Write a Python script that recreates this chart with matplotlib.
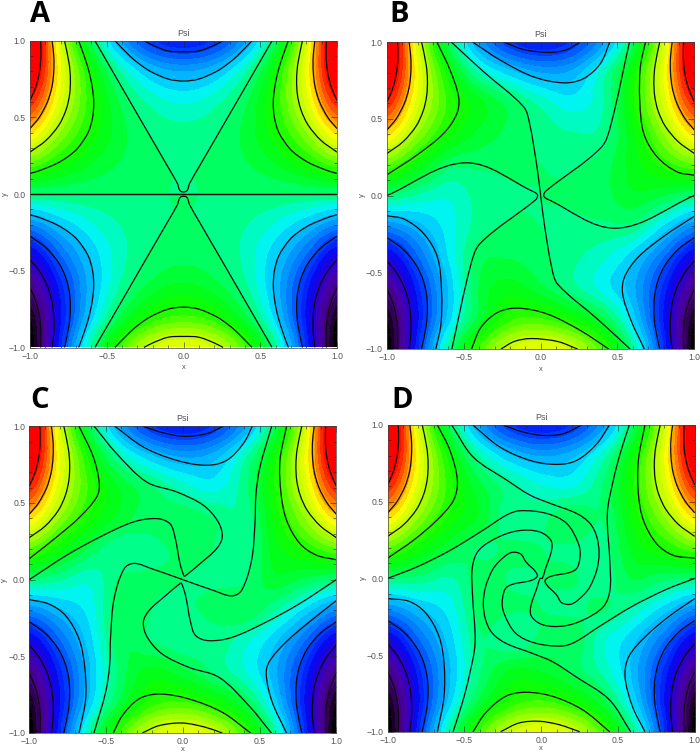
import numpy as np
import matplotlib
matplotlib.use("Agg")
import matplotlib.pyplot as plt
from matplotlib.colors import LinearSegmentedColormap, BoundaryNorm
from matplotlib.path import Path
from matplotlib.patches import PathPatch

# Psi read at nodes x=-1..1, y=1..-1 (step 0.2)
TOP = [2, .92, .08, -.52, -.88, -1, -.88, -.52, .08, .92, 2]
BOT = [-2, -.92, -.08, .52, .88, 1, .88, .52, -.08, -.92, -2]
psi_a = [TOP,
 [1.89, 1.02, .35, -.13, -.42, -.51, -.42, -.13, .35, 1.02, 1.89],
 [1.58, .94, .43, .07, -.14, -.22, -.14, .07, .43, .94, 1.58],
 [1.14, .70, .37, .13, -.02, -.06, -.02, .13, .37, .70, 1.14],
 [.59, .38, .21, .09, .02, -.01, .02, .09, .21, .38, .59],
 [0, 0, 0, 0, 0, 0, 0, 0, 0, 0, 0],
 [-.59, -.38, -.21, -.09, -.02, .01, -.02, -.09, -.21, -.38, -.59],
 [-1.14, -.70, -.37, -.13, .02, .06, .02, -.13, -.37, -.70, -1.14],
 [-1.58, -.94, -.43, -.07, .14, .22, .14, -.07, -.43, -.94, -1.58],
 [-1.89, -1.02, -.35, .13, .42, .51, .42, .13, -.35, -1.02, -1.89],
 BOT]
psi_b = [TOP,
 [1.89, 1.02, .35, -.11, -.35, -.50, -.47, -.15, .35, 1.02, 1.89],
 [1.58, .94, .475, .24, .05, -.13, -.25, -.11, .385, .94, 1.58],
 [1.14, .70, .36, .17, .07, -.03, -.09, -.06, .29, .71, 1.14],
 [.59, .31, .04, .02, .02, 0, -.01, .05, .25, .44, .59],
 [0, -.11, -.18, -.06, -.01, 0, .01, .06, .18, .11, 0],
 [-.59, -.44, -.25, -.05, .01, 0, -.02, -.02, -.04, -.31, -.59],
 [-1.14, -.71, -.29, .06, .09, .03, -.07, -.17, -.36, -.70, -1.14],
 [-1.58, -.94, -.385, .11, .25, .13, -.05, -.24, -.475, -.94, -1.58],
 [-1.89, -1.02, -.35, .15, .47, .50, .35, .11, -.35, -1.02, -1.89],
 BOT]
psi_c = [TOP,
 [1.89, 1.02, .35, -.115, -.375, -.51, -.45, -.14, .35, 1.02, 1.89],
 [1.58, .94, .465, .18, .01, -.14, -.24, -.045, .40, .94, 1.58],
 [1.14, .70, .37, .16, .03, .06, 0, -.08, .33, .71, 1.14],
 [.59, .33, .08, -.09, -.02, .01, 0, -.085, .25, .42, .59],
 [0, -.08, -.17, .02, .01, 0, -.01, -.02, .17, .08, 0],
 [-.59, -.42, -.25, .085, 0, -.01, .02, .09, -.08, -.33, -.59],
 [-1.14, -.71, -.33, .08, 0, -.06, -.03, -.16, -.37, -.70, -1.14],
 [-1.58, -.94, -.40, .045, .24, .14, -.01, -.18, -.465, -.94, -1.58],
 [-1.89, -1.02, -.35, .14, .45, .51, .375, .115, -.35, -1.02, -1.89],
 BOT]
psi_d = [TOP,
 [1.89, 1.02, .35, -.12, -.39, -.51, -.43, -.14, .35, 1.02, 1.89],
 [1.58, .94, .45, .13, -.06, -.19, -.21, .01, .415, .94, 1.58],
 [1.14, .70, .375, .18, -.08, -.03, .09, .01, .35, .71, 1.14],
 [.59, .35, .14, -.01, .02, 0, -.01, -.04, .25, .41, .59],
 [0, -.03, -.11, .055, -.01, 0, .01, -.055, .11, .03, 0],
 [-.59, -.41, -.25, .04, .01, 0, -.02, .01, -.14, -.35, -.59],
 [-1.14, -.71, -.35, -.01, -.09, .03, .08, -.18, -.375, -.70, -1.14],
 [-1.58, -.94, -.415, -.01, .21, .19, .06, -.13, -.45, -.94, -1.58],
 [-1.89, -1.02, -.35, .14, .43, .51, .39, .12, -.35, -1.02, -1.89],
 BOT]

# Contours at the right-hand top corner, (x, y), shared by all panels
corner_08 = [(1, .274), (.896, .35), (.812, .45), (.765, .55), (.742, .65), (.737, .75), (.745, .85), (.775, 1)]
corner_12 = [(1, .427), (.94, .5), (.887, .6), (.857, .7), (.845, .8), (.845, .9), (.856, 1)]
corner_16 = [(1, .61), (.962, .7), (.938, .8), (.929, .9), (.931, 1)]

# Contours specific to each panel; each is also drawn through the panel's centre
lines_a = [
 [(1, .135), (.947, .15), (.825, .2), (.745, .25), (.689, .3), (.622, .4), (.592, .5), (.585, .6), (.595, .7), (.616, .8), (.647, .9), (.683, 1)],
 [(-1, .135), (-.947, .15), (-.825, .2), (-.745, .25), (-.689, .3), (-.622, .4), (-.592, .5), (-.585, .6), (-.595, .7), (-.616, .8), (-.647, .9), (-.683, 1)],
 [(-.447, 1), (-.349, .9), (-.29, .85), (-.216, .8), (-.1, .75), (0, .737), (.1, .75), (.216, .8), (.29, .85), (.349, .9), (.447, 1)],
 [(-.258, 1), (-.2, .97), (-.1, .933), (0, .928), (.1, .933), (.2, .97), (.258, 1)],
 [(-.577, 1), (-.3, .52), (-.1, .175), (-.04, .07), (-.02, .02), (.02, .02), (.04, .07), (.1, .175), (.3, .52), (.577, 1)],
 [(-1, 0), (1, 0)],
]
lines_b = [
 [(-.675, 1), (-.589, .816), (-.534, .643), (-.545, .534), (-.632, .404), (-.806, .263), (-.997, .137)],
 [(.682, 1), (.649, .838), (.645, .621), (.671, .404), (.758, .252), (.888, .154), (1, .132)],
 [(-.443, 1), (-.263, .882), (-.046, .773), (.15, .734), (.28, .762), (.389, .86), (.45, 1)],
 [(-.24, 1), (-.11, .951), (.063, .932), (.172, .951), (.258, 1)],
 [(-.582, 1), (-.371, .806), (-.111, .578), (-.072, .469), (-.024, .187), (0, 0)],
 [(-1, 0), (-.49, .213), (-.045, .024), (-.02, .002), (-.035, -.03), (-.394, -.313), (-.458, -.465), (-.578, -1)],
]
lines_c = [
 [(-.676, 1), (-.583, .8), (-.544, .626), (-.561, .539), (-.67, .409), (-.822, .278), (-1, .137)],
 [(.676, 1), (.633, .778), (.64, .561), (.676, .387), (.763, .235), (.872, .159), (1, .13)],
 [(-.442, 1), (-.257, .865), (-.04, .778), (.155, .746), (.286, .778), (.394, .887), (.453, 1)],
 [(-.257, 1), (-.149, .963), (.003, .935), (.155, .952), (.264, 1)],
 [(.579, 1), (.503, .735), (.477, .561), (.47, .365), (.448, .126), (.383, -.07), (.318, -.106), (.199, -.07), (.025, -.009), (0, 0)],
 [(-1, 0), (-.757, .159), (-.54, .278), (-.322, .376), (-.17, .398), (-.084, .365), (-.051, .278), (-.018, .104), (.008, .024), (.016, .024),
  (.112, .104), (.22, .202), (.257, .278), (.231, .376), (.134, .485), (-.04, .572), (-.236, .637), (-.431, .822), (-.577, 1)],
]
lines_d = [
 [(-.676, 1), (-.594, .834), (-.546, .638), (-.572, .508), (-.681, .378), (-.833, .248), (-1, .132)],
 [(.676, 1), (.633, .769), (.633, .552), (.666, .378), (.752, .226), (.861, .15), (1, .132)],
 [(-.446, 1), (-.268, .856), (-.073, .769), (.101, .743), (.231, .769), (.362, .877), (.444, 1)],
 [(-.251, 1), (-.116, .954), (.014, .932), (.144, .943), (.264, 1)],
 [(.574, 1), (.514, .812), (.47, .641), (.431, .423), (.448, .098), (.448, -.076), (.405, -.185), (.275, -.271), (.144, -.311), (.014, -.304),
  (-.062, -.25), (-.068, -.185), (-.025, -.054), (-.008, 0), (0, 0)],
 [(-1, 0), (-.811, .074), (-.594, .182), (-.377, .315), (-.225, .413), (-.138, .441), (.036, .423), (.166, .358), (.242, .228), (.253, .141),
  (.22, .054), (.058, .011), (.025, -.022), (.101, -.109), (.134, -.159), (.199, -.167), (.275, -.109), (.318, -.054), (.362, .054), (.377, .163),
  (.362, .271), (.318, .358), (.231, .423), (.058, .489), (-.073, .543), (-.225, .641), (-.442, .79), (-.583, 1)],
]

panel_letters = ["A", "B", "C", "D"]
panel_title = "Psi"
# left, right, top, bottom of each plot in pixels; letter x and baseline
boxes = [(30, 337, 40.7, 347.5), (387, 694.3, 42, 349), (29.3, 336.3, 426.3, 733), (387.7, 694.7, 425, 731.7)]
letter_pos = [(30, 22), (389, 22), (30, 408), (391, 408)]
xlabel_coord = [-0.055, -0.055, -0.042, -0.042]

# Colours along Psi
color_psi = [-2, -1.85, -1.7, -1.5, -1.3, -1.1, -.9, -.6, -.4, -.25, -.1, 0, .2, .4, .6, .8, 1.0, 1.1, 1.25, 1.4, 1.6, 1.75, 2]
color_hex = ["#000000", "#28003c", "#440080", "#4800a8", "#2c00d0", "#0808f0", "#0038ff", "#0090ff", "#00c8ff",
             "#00f8f0", "#00ffa0", "#00ff70", "#00ff20", "#10ff00", "#60ff00", "#b0ff00", "#e8ff00", "#ffff00",
             "#ffb000", "#ff7000", "#ff2000", "#ff0000", "#ff0000"]

W, H = 700, 753
fig = plt.figure(figsize=(W / 100, H / 100), dpi=100, facecolor="white")
plt.rcParams["font.family"] = ["Liberation Sans", "DejaVu Sans"]

cmap = LinearSegmentedColormap.from_list(
    "idl39", [((v + 2) / 4, c) for v, c in zip(color_psi, color_hex)], N=256)
levels = np.linspace(-2, 2, 41)
norm = BoundaryNorm(levels, 256)
GRAY = "#555555"
LINE = dict(edgecolor="#0a0a0a", facecolor="none", lw=0.9, joinstyle="round", capstyle="butt")


def curve(pts):
    """Bezier path through the read points, using the library's curve segments."""
    p = np.array(pts, dtype=float)
    n = len(p)
    if n == 2:
        return Path(p)
    tang = np.zeros_like(p)
    tang[1:-1] = p[2:] - p[:-2]
    tang[0] = p[1] - p[0]
    tang[-1] = p[-1] - p[-2]
    tang /= np.maximum(np.linalg.norm(tang, axis=1, keepdims=True), 1e-9)
    verts, codes = [p[0]], [Path.MOVETO]
    for i in range(n - 1):
        d = np.linalg.norm(p[i + 1] - p[i]) / 3
        verts += [p[i] + tang[i] * d, p[i + 1] - tang[i + 1] * d, p[i + 1]]
        codes += [Path.CURVE4] * 3
    return Path(verts, codes)


fields = [psi_a, psi_b, psi_c, psi_d]
lines = [lines_a, lines_b, lines_c, lines_d]
for box, pos, letter, psi, own, xc in zip(boxes, letter_pos, panel_letters, fields, lines, xlabel_coord):
    l, r, t, b = box
    ax = fig.add_axes([l / W, 1 - b / H, (r - l) / W, (b - t) / H])
    ax.imshow(np.array(psi), extent=(-1.1, 1.1, -1.1, 1.1), origin="upper", cmap=cmap, norm=norm,
              interpolation="catrom", interpolation_stage="data", aspect="auto")
    ax.set_xlim(-1, 1)
    ax.set_ylim(-1, 1)
    for pts in (corner_08, corner_12, corner_16):
        q = np.array(pts)
        for sx, sy in ((1, 1), (-1, 1), (1, -1), (-1, -1)):
            ax.add_patch(PathPatch(curve(q * (sx, sy)), **LINE))
    for pts in own:
        q = np.array(pts)
        ax.add_patch(PathPatch(curve(q), **LINE))
        ax.add_patch(PathPatch(curve(-q), **LINE))
    ax.set_xticks([-1, -.5, 0, .5, 1], ["\u22121.0", "\u22120.5", "0.0", "0.5", "1.0"])
    ax.set_yticks([-1, -.5, 0, .5, 1], ["\u22121.0", "\u22120.5", "0.0", "0.5", "1.0"])
    ax.set_xticks(np.arange(-10, 11) / 10, minor=True)
    ax.set_yticks(np.arange(-10, 11) / 10, minor=True)
    ax.tick_params(which="major", direction="in", top=True, right=True, length=4, width=0.4, color="#222222",
                   labelsize=6.2, labelcolor=GRAY, pad=3)
    ax.tick_params(which="minor", direction="in", top=True, right=True, length=2, width=0.4, color="#222222")
    for s in ax.spines.values():
        s.set_linewidth(0.5)
        s.set_color("#444444")
    ax.set_xlabel("x", fontsize=5.5, color=GRAY)
    ax.set_ylabel("y", fontsize=5.5, color=GRAY)
    ax.xaxis.set_label_coords(0.5, xc)
    ax.yaxis.set_label_coords(-0.068, 0.5)
    ax.set_title(panel_title, fontsize=6.5, color=GRAY, pad=3.5)
    fig.text(pos[0] / W, 1 - pos[1] / H, letter, fontsize=21, fontweight="bold", family="Open Sans",
             color="black", ha="left", va="baseline")

fig.savefig("out.png", dpi=100, facecolor="white")
